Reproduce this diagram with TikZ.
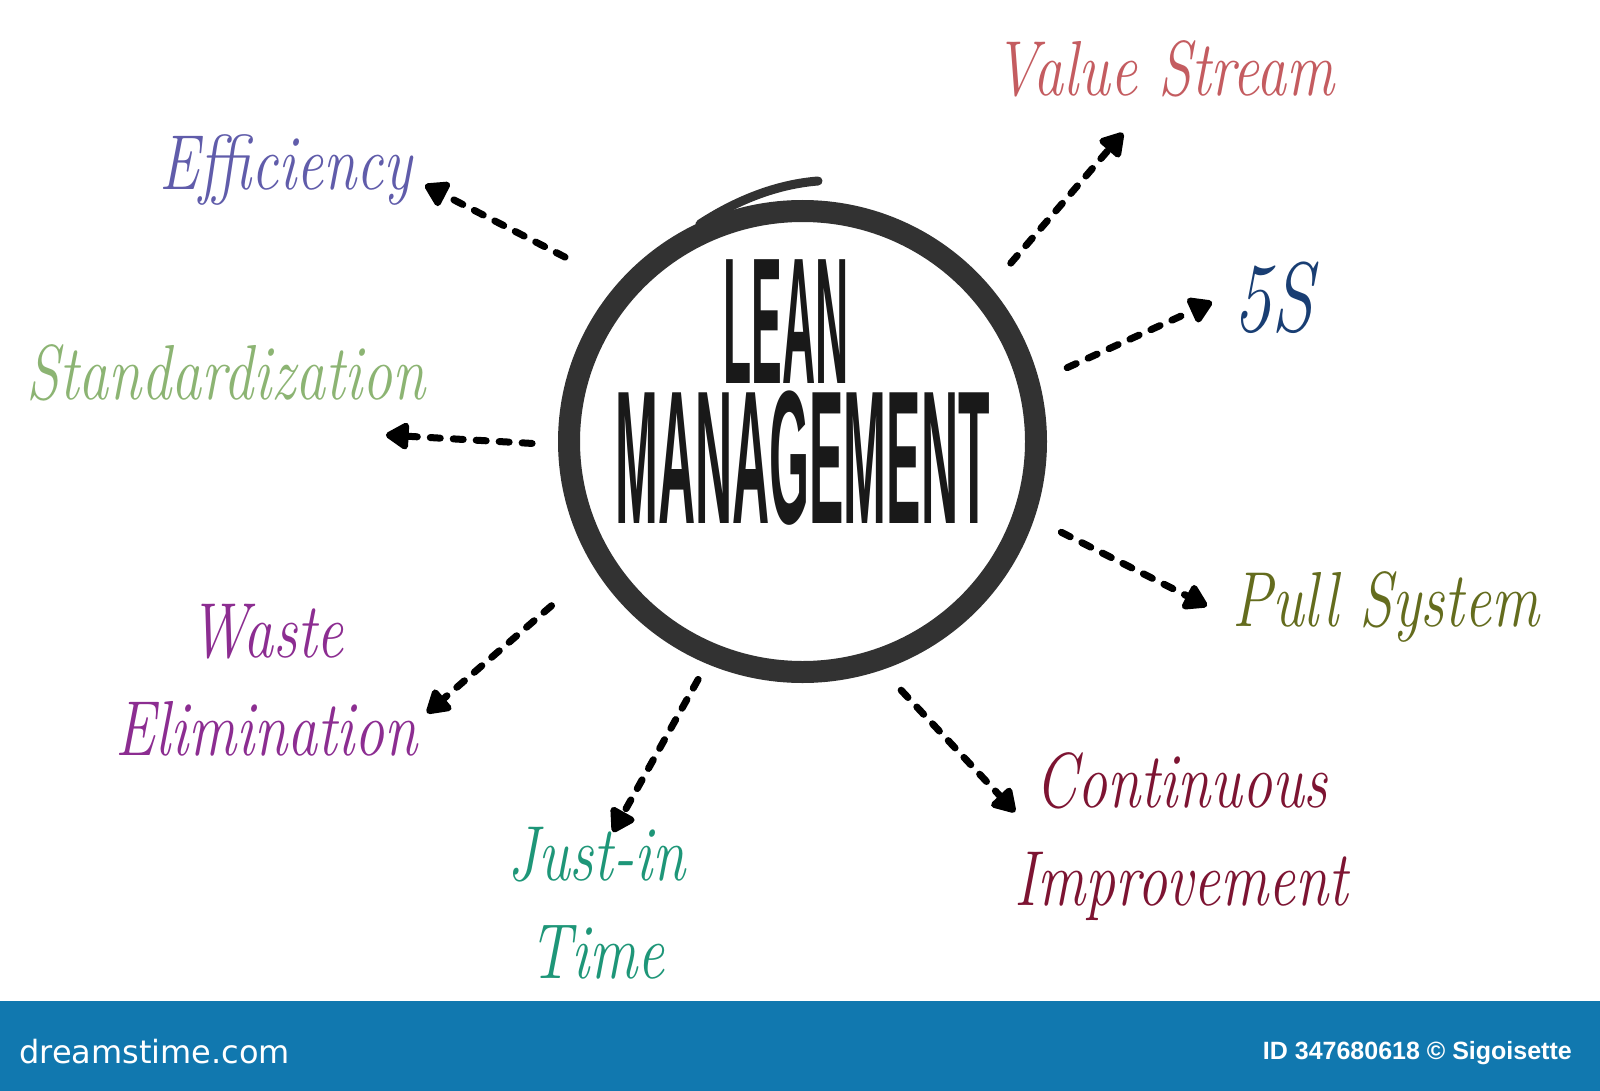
\documentclass[tikz,border=0pt]{standalone}
\usepackage{fontspec}
\usepackage{graphicx}
\usetikzlibrary{shapes.geometric, arrows.meta, positioning}
\newfontfamily\titlefont{Liberation Sans}
\newfontfamily\barfont{DejaVu Sans}
\definecolor{ringgray}{RGB}{50,50,50}
\definecolor{effblue}{RGB}{96,92,170}
\definecolor{streamrose}{RGB}{196,92,96}
\definecolor{navy}{RGB}{25,62,115}
\definecolor{sage}{RGB}{140,180,115}
\definecolor{olive}{RGB}{100,108,30}
\definecolor{plum}{RGB}{140,45,145}
\definecolor{teal}{RGB}{30,150,120}
\definecolor{maroon}{RGB}{125,20,50}
\definecolor{barblue}{RGB}{17,120,175}
\newcommand{\tall}[1]{\scalebox{1}[1.3]{#1}}

\begin{document}
\begin{tikzpicture}[
    x=1pt, y=-1pt,
    ring/.style={ellipse, draw=ringgray, line width=22pt, minimum width=467pt, minimum height=461pt, inner sep=0pt, outer sep=0pt},
    title/.style={font=\fontsize{100}{100}\selectfont\titlefont\bfseries, text=black!90, inner sep=0pt},
    lbl/.style={font=\fontsize{60}{98}\selectfont\itshape, align=center, inner sep=0pt, outer sep=0pt},
    arrow/.style={-{Triangle[length=26pt,width=30pt,round]}, line width=7pt, line cap=round, dash pattern=on 10pt off 13pt}
]
\fill[white] (0,0) rectangle (1600,1091);
\useasboundingbox (0,0) rectangle (1600,1091);

% Centre
\node[ring] (ring) at (802.5,441.5) {};
\draw[ringgray, line width=9pt, line cap=round] (700,224) .. controls (740,198) and (780,184) .. (818,181);
\node[title] (lean) at (786,322) {\scalebox{0.46}[1.8]{LEAN}};
\node[title, below=7pt of lean, xshift=16.5pt] (mgmt) {\scalebox{0.515}[1.9]{MANAGEMENT}};

% Left side
\node[lbl, text=effblue, minimum width=265pt, minimum height=115pt] (eff) at (285.5,170.5) {\tall{Efficiency}};
\node[lbl, text=sage, minimum width=382pt, minimum height=79pt] (std) at (226,372.5) {\tall{Standardization}};
\node[lbl, text=plum, minimum width=307pt, minimum height=170pt] (waste) at (266.5,680) {\tall{Waste}\\\tall{Elimination}};
\node[lbl, text=teal, minimum width=193pt, minimum height=173pt] (jit) at (596.5,903.5) {\tall{Just-in}\\\tall{Time}};

% Right side
\node[lbl, text=streamrose, minimum width=375pt, minimum height=78pt] (vs) at (1164.5,69) {\tall{Value Stream}};
\node[lbl, text=navy, font=\fontsize{76}{76}\selectfont\itshape, minimum width=87pt, minimum height=52pt] (five) at (1273.5,298) {\tall{5S}};
\node[lbl, text=olive, minimum width=330pt, minimum height=122pt] (pull) at (1386,607) {\tall{Pull System}};
\node[lbl, text=maroon, minimum width=337pt, minimum height=200pt] (ci) at (1181.5,837) {\tall{Continuous}\\\tall{Improvement}};

% Arrows
\draw[arrow, shorten <=70pt] (ring.139) -- ([shift={(7,14.5)}]eff.east);
\draw[arrow, shorten <=37pt] (ring.181.4) -- ([shift={(-40,23)}]std.south east);
\draw[arrow, shorten <=68pt] (ring.211.9) -- ([shift={(7,33)}]waste.east);
\draw[arrow, shorten <=29pt] (ring.247.6) -- ([shift={(16.5,15)}]jit.north);
\draw[arrow, shorten <=40pt] (ring.288.3) -- ([shift={(2,-25)}]ci.west);
\draw[arrow, shorten <=41.5pt] (ring.342.7) -- ([shift={(-14,-1)}]pull.west);
\draw[arrow, shorten <=42pt] (ring.14.2) -- ([shift={(-18,4)}]five.west);
\draw[arrow, shorten <=42.5pt] (ring.39.4) -- ([shift={(-41.5,25)}]vs.south);

% Footer
\fill[barblue] (0,1001) rectangle (1600,1091);
\node[font=\fontsize{32}{32}\selectfont\barfont, text=white, anchor=west, inner sep=0pt] (logo) at (19,1052) {dreamstime.com};
\node[font=\fontsize{25}{25}\selectfont\titlefont\bfseries, text=white, anchor=east, inner sep=0pt] (credit) at (1572,1053) {ID 347680618 © Sigoisette};

\end{tikzpicture}
\end{document}
